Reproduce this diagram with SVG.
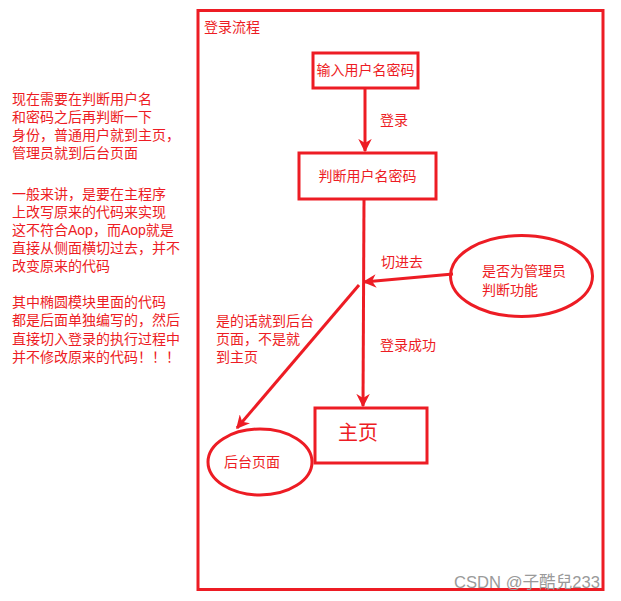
<svg xmlns="http://www.w3.org/2000/svg" width="621" height="601" viewBox="0 0 621 601">
<defs>
<style>
text{font-family:"Liberation Sans","Noto Sans CJK SC",sans-serif;fill:#ed1c24;font-size:14px}
.box{fill:none;stroke:#ed1c24;stroke-width:3}
.ln{fill:none;stroke:#ed1c24;stroke-width:3}
</style>
<marker id="ah" viewBox="0 0 10 10" refX="9" refY="5" markerWidth="4.5" markerHeight="4.5" orient="auto" markerUnits="strokeWidth">
<path d="M0,0 L10,5 L0,10 L3,5 Z" fill="#ed1c24"/>
</marker>
</defs>
<rect width="621" height="601" fill="#fff"/>
<g id="notes">
<text x="12" y="104">现在需要在判断用户名</text>
<text x="12" y="122">和密码之后再判断一下</text>
<text x="12" y="140">身份，普通用户就到主页，</text>
<text x="12" y="158">管理员就到后台页面</text>
<text x="12" y="199">一般来讲，是要在主程序</text>
<text x="12" y="217">上改写原来的代码来实现</text>
<text x="12" y="235">这不符合Aop，而Aop就是</text>
<text x="12" y="253">直接从侧面横切过去，并不</text>
<text x="12" y="271">改变原来的代码</text>
<text x="12" y="307">其中椭圆模块里面的代码</text>
<text x="12" y="325">都是后面单独编写的，然后</text>
<text x="12" y="344">直接切入登录的执行过程中</text>
<text x="12" y="362">并不修改原来的代码！！！</text>
</g>
<g id="frame">
<rect class="box" x="198" y="10.5" width="405" height="579"/>
<text x="204" y="32">登录流程</text>
</g>
<g id="input">
<rect class="box" x="313" y="53" width="105" height="35"/>
<text x="365.5" y="75" text-anchor="middle">输入用户名密码</text>
</g>
<g id="judge">
<rect class="box" x="299" y="153" width="137" height="46"/>
<text x="367.5" y="181" text-anchor="middle">判断用户名密码</text>
</g>
<g id="home">
<rect class="box" x="315" y="408" width="112" height="55"/>
<text x="338" y="440" style="font-size:20px">主页</text>
</g>
<g id="admin-check">
<ellipse class="box" cx="521.5" cy="276" rx="71" ry="40.5"/>
<text x="482" y="276">是否为管理员</text>
<text x="482" y="295">判断功能</text>
</g>
<g id="backend">
<ellipse class="box" cx="260" cy="462" rx="52" ry="33"/>
<text x="224" y="467">后台页面</text>
</g>
<g id="connectors">
<line class="ln" x1="365" y1="89" x2="365" y2="151" marker-end="url(#ah)"/>
<line class="ln" x1="364" y1="200" x2="363" y2="406" marker-end="url(#ah)"/>
<line class="ln" x1="453" y1="274" x2="364" y2="282" marker-end="url(#ah)"/>
<line class="ln" x1="359" y1="285" x2="237" y2="428" marker-end="url(#ah)"/>
<text x="380" y="125">登录</text>
<text x="381" y="267">切进去</text>
<text x="380" y="350">登录成功</text>
<text x="216" y="326">是的话就到后台</text>
<text x="216" y="344">页面，不是就</text>
<text x="216" y="362">到主页</text>
</g>
<text x="454" y="588" style="font-size:16.6px;fill:#9a9a9a">CSDN @子酷兒233</text>
</svg>
